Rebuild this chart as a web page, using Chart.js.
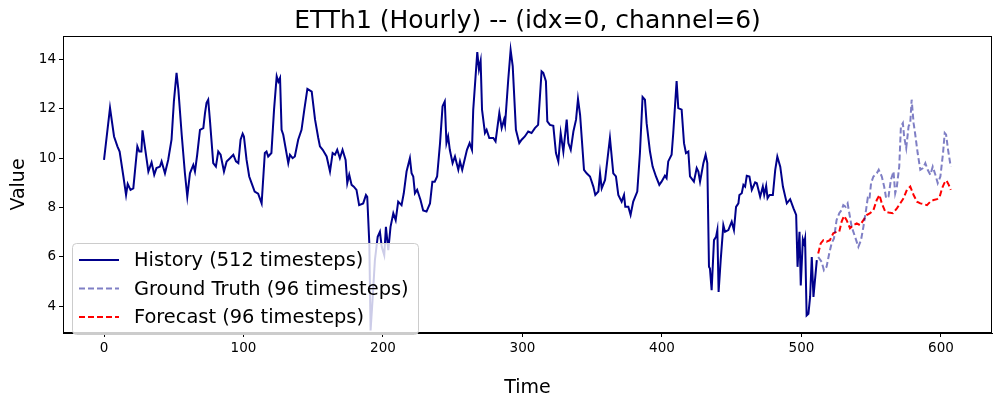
<!DOCTYPE html>
<html><head><meta charset="utf-8">
<script src="https://cdn.jsdelivr.net/npm/chart.js@4"></script>
<style>html,body{margin:0;padding:0;background:#fff}#wrap{width:1001px;height:403px}</style>
</head><body><div id="wrap"><canvas id="c" width="1001" height="403"></canvas></div>
<script>
const histT=[0,4.3,7.2,9.6,11.2,13.9,15.8,17,19,21,23.9,25.3,26.8,27.6,29.6,31.8,34.1,36,37.6,40.1,41.3,43.7,46,48.4,50.1,52,53.3,55.7,58,59.7,61.6,64,65.2,66.8,68.8,71.2,72.4,73.5,74.7,75.9,78.3,80.2,81.9,83.6,86,87.9,90.3,91.5,92.7,94.6,96.3,97.9,99.4,100.3,102.2,104.1,105.8,108,110.5,113,115.3,116.5,117.7,120,121.9,123.8,125,126.2,127.3,128.5,132.1,133.3,135.2,136.8,139.2,141.6,143.6,145.8,148.9,151.3,153.6,154.8,156.8,159.6,162,163.9,165.6,167.2,169.1,171,173.2,174.4,175.8,177.5,179.1,181,182.9,185.8,187.8,188.7,190.2,191.1,192.5,194.2,196.2,197.8,199.1,200.9,202.1,203.8,205.4,207.4,209.1,210.9,213.3,214.9,216.9,219.3,220.5,221.7,222.9,224.5,226.9,228.8,231.2,233.7,235.4,237.1,238.8,240.9,242.7,244.3,245.5,246.7,247.9,249.9,251.6,254,255.2,256.8,260.2,262.1,263.8,264.7,267.6,268.8,270,271,273.1,274.3,276.2,279.1,280.7,283.4,285.1,286.8,287.5,289.8,291.5,293,295.3,297.7,299.4,301.7,304.1,306.5,308.9,311.2,313.7,314.9,316.8,317.8,319.7,322.1,324,325.7,327.4,329.3,331.7,332.9,334.6,336.5,338.4,339.8,341.3,344.1,346,348.4,350.8,352.2,354.4,355.6,356.8,359.2,362.7,365.1,367,368.7,371.1,372.8,373.7,375.9,377.5,379.4,382.3,384.2,386.1,387.8,389,391.4,393.3,395.7,398.1,399.7,402.1,403.3,404.5,406.9,408.1,410.5,411.7,414.1,415.8,417.2,418.9,420.1,422.9,424.9,426.1,427.3,429.7,431.3,432.5,433.7,434.4,435.6,437.3,438.8,439.7,440.6,442.1,444,445.2,447.6,450,451.6,453.1,454.8,455.5,457.2,458.4,459.6,460.8,462.7,464.4,466.8,468,470.4,472.3,473.3,474.7,475.7,477.1,479.5,481.2,482.7,484.8,486.7,489.5,491.9,494.3,496.2,497.2,498.6,499.5,501,501.9,502.6,503.7,505,506.2,507.4,508.6,511];
const histV=[9.93,12.04,10.88,10.48,10.27,9.26,8.51,8.96,8.72,8.78,10.48,10.27,10.27,11.13,10.34,9.46,9.83,9.33,9.6,9.66,9.87,9.39,9.93,10.75,12.3,13.46,12.78,10.95,9.39,8.44,9.39,9.73,9.46,10.14,11.15,11.22,11.83,12.24,12.37,11.56,9.8,9.66,10.27,10.14,9.46,9.87,10.0,10.07,10.14,9.87,9.8,10.75,10.99,10.88,9.93,9.26,8.99,8.65,8.56,8.17,10.21,10.27,10.07,10.21,11.97,13.32,13.1,13.25,11.15,10.95,9.8,10.14,10.0,10.07,10.75,11.15,11.97,12.81,12.7,11.56,10.82,10.48,10.34,10.07,9.46,10.21,10.14,10.34,10.0,10.34,9.93,8.99,9.33,8.92,8.85,8.72,8.1,8.17,8.51,8.44,6.55,3.02,4.24,5.87,6.82,7.02,6.41,6.07,7.22,6.28,7.22,7.77,7.49,8.24,8.1,8.58,9.46,10.0,9.39,9.26,8.58,8.72,8.31,7.88,7.84,8.17,9.05,9.05,9.26,10.61,12.1,12.3,10.61,10.88,10.34,9.8,10.07,9.53,9.87,9.53,10.34,10.61,10.34,11.97,14.3,13.6,13.94,11.97,11.02,11.15,10.82,10.82,10.68,11.83,11.22,11.56,11.35,13.19,14.38,13.73,11.15,10.61,10.75,10.88,11.08,11.02,11.22,11.35,13.52,13.46,13.12,11.49,11.35,11.31,10.21,9.87,11.02,10.27,11.56,10.61,10.34,11.08,11.56,12.4,11.76,9.53,9.39,9.26,8.85,8.51,8.65,9.39,8.78,9.12,10.82,9.39,9.26,8.51,8.24,8.51,8.03,8.03,7.7,8.24,8.65,10.21,12.48,12.37,11.42,10.27,9.66,9.26,8.92,9.05,9.29,9.19,9.87,10.14,11.02,13.12,12.03,11.97,10.61,10.21,10.27,9.26,9.05,9.6,9.46,9.05,9.8,10.14,9.8,5.6,5.53,4.65,6.68,6.82,7.09,4.58,5.87,7.29,7.02,7.09,7.43,7.09,8.03,8.17,8.51,8.58,8.92,8.85,9.29,9.26,8.72,9.02,8.99,8.44,8.85,8.51,8.88,8.38,8.51,8.51,9.53,10.07,9.66,8.85,8.17,8.34,7.97,7.7,5.6,7.02,4.85,6.71,6.55,6.75,3.63,3.7,4.38,6.0,4.38,5.87];
const truthT=[512,514.5,516.1,518,519.9,521.6,523.3,525.2,527.1,528.8,530,531.7,533.1,534.3,536,538.4,540.8,542.7,544.4,546.3,547.5,548.7,549.9,551.6,554,555.4,557.6,559.3,560.7,562.4,564.1,566,567.2,568.4,570.1,571.3,572.7,573.6,575.1,576.8,578,579,580.4,581.6,583.3,585.2,587.1,588.8,590.5,592.4,594.1,596,597.7,599.6,601.5,602.7,603.7,605.1,607];
const truthV=[6.0,5.8,5.46,5.6,6.14,6.55,6.75,7.5,7.77,7.9,8.1,8.03,8.17,7.77,7.22,6.82,6.41,6.68,7.22,7.9,8.38,8.31,8.99,9.26,9.39,9.53,9.26,8.85,8.38,8.44,9.12,9.46,8.58,8.85,9.66,11.29,11.42,10.88,10.41,11.29,11.42,12.37,11.42,10.95,10.21,9.53,9.6,9.8,9.53,9.33,9.66,9.33,8.99,9.26,10.21,11.02,10.95,10.34,9.66];
const fcT=[512,513.8,515.7,518,520.4,522.8,525.2,527.1,528.8,530.5,532.4,534.8,537.2,539.6,542,544.4,546.8,549.2,551.6,554,555.9,557.6,560,562.4,565.5,568.4,570.8,573.2,575.6,578,580.4,582.8,585.2,587.6,590,592.4,594.8,597.2,599.1,600.8,602.4,603.9,605.6,607];
const fcV=[6.14,6.55,6.68,6.62,6.68,6.96,7.02,7.02,7.43,7.66,7.49,7.16,7.29,7.36,7.29,7.49,7.7,7.77,7.9,8.31,8.51,8.17,7.84,7.8,7.77,7.97,8.17,8.38,8.72,8.85,8.51,8.24,8.17,8.14,8.1,8.24,8.31,8.34,8.44,8.78,8.99,9.1,8.92,8.72];
const xTicks=[0,100,200,300,400,500,600];
const yTicks=[4,6,8,10,12,14];
const titleText="ETTh1 (Hourly) -- (idx=0, channel=6)";
const legendLabels=["History (512 timesteps)","Ground Truth (96 timesteps)","Forecast (96 timesteps)"];
const colors=["#00008b","rgba(0,0,139,0.5)","#ff0000"];

const pts=(t,v)=>t.map((x,i)=>({x,y:v[i]}));
const FONT="'DejaVu Sans', sans-serif";
const extras={id:'extras',afterDraw(ch){
  const c=ch.ctx,a=ch.chartArea;
  c.save();
  c.strokeStyle='#000';c.lineWidth=1;
  c.strokeRect(a.left+0.5,a.top+0.5,a.right-a.left-1,a.bottom-a.top-1);
  c.fillStyle='#000';c.font="25px "+FONT;c.textAlign='center';c.textBaseline='middle';
  c.fillText(titleText,(a.left+a.right)/2,21);
  const lx=72,ly=243,lw=346,lh=91;
  c.fillStyle='rgba(255,255,255,0.8)';c.strokeStyle='#cccccc';
  c.beginPath();c.roundRect(lx+0.5,ly+0.5,lw,lh,4);c.fill();c.stroke();
  c.font="19.4px "+FONT;c.textAlign='left';
  legendLabels.forEach((l,i)=>{
    const y=260+i*28.5;
    c.strokeStyle=colors[i];c.lineWidth=2;c.setLineDash(i?[6,3]:[]);
    c.beginPath();c.moveTo(79,y);c.lineTo(119,y);c.stroke();
    c.setLineDash([]);c.fillStyle='#000';c.fillText(l,134,y+1);
  });
  c.restore();
}};
new Chart(document.getElementById('c'),{
  type:'line',
  data:{datasets:[
    {data:pts(histT,histV),borderColor:colors[0],borderWidth:2,pointRadius:0,tension:0},
    {data:pts(truthT,truthV),borderColor:colors[1],borderWidth:2,borderDash:[6,3],pointRadius:0,tension:0},
    {data:pts(fcT,fcV),borderColor:colors[2],borderWidth:2,borderDash:[6,3],pointRadius:0,tension:0}
  ]},
  options:{responsive:false,animation:false,events:[],
    layout:{padding:{top:36,right:9,left:4,bottom:0}},
    plugins:{legend:{display:false},tooltip:{enabled:false}},
    scales:{
      x:{type:'linear',min:-29.4,max:636.6,
        afterBuildTicks:s=>{s.ticks=xTicks.map(v=>({value:v}));},
        afterFit:s=>{s.height=70;},
        grid:{drawOnChartArea:false,drawTicks:true,tickLength:4,color:'#000'},
        border:{display:true,color:'#000'},
        ticks:{color:'#000',font:{family:FONT,size:13.5},padding:3,maxRotation:0},
        title:{display:true,text:'Time',color:'#000',font:{family:FONT,size:19},padding:{top:4}}},
      y:{min:2.92,max:14.95,
        afterBuildTicks:s=>{s.ticks=yTicks.map(v=>({value:v}));},
        afterFit:s=>{s.width=59;},
        grid:{drawOnChartArea:false,drawTicks:true,tickLength:4,color:'#000'},
        border:{display:true,color:'#000'},
        ticks:{color:'#000',font:{family:FONT,size:13.5},padding:3},
        title:{display:true,text:'Value',color:'#000',font:{family:FONT,size:19},padding:{bottom:4}}}
    }
  },
  plugins:[extras]
});
</script></body></html>
